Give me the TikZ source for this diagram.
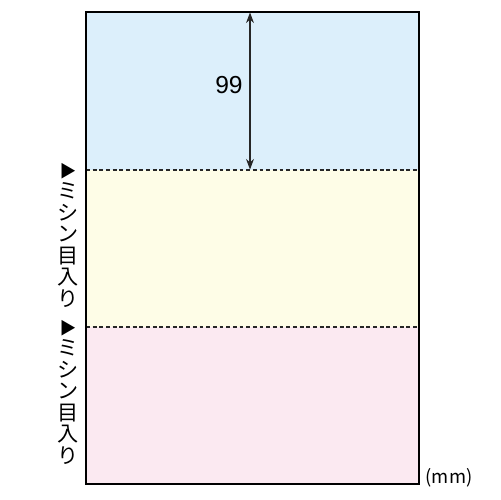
\documentclass[tikz,border=0pt]{standalone}
\usepackage{fontspec}
\setmainfont{Liberation Sans}
\newfontfamily\jpfont{Noto Sans CJK JP}
\usetikzlibrary{arrows.meta}
\definecolor{secblue}{RGB}{220,239,251}
\definecolor{secyellow}{RGB}{254,253,231}
\definecolor{secpink}{RGB}{251,233,241}
\newcommand{\tri}{{\fontsize{9.5}{12.2}\selectfont ▶}}
\tikzset{
  perf/.style={draw=black!85, line width=0.6pt, dash pattern=on 2.2pt off 1.6pt},
  border/.style={draw=black, line width=0.8pt},
  dimarrow/.style={draw=black!85, line width=0.6pt, {Stealth[length=6pt,width=4.5pt]}-{Stealth[length=6pt,width=4.5pt]}},
  vlabel/.style={font=\jpfont\fontsize{12}{12.2}\selectfont, align=center, inner sep=0pt, anchor=north},
}
\begin{document}
\begin{tikzpicture}[x=0.02cm,y=-0.02cm]
\useasboundingbox (0,0) rectangle (500,500);
% sections
\fill[secblue] (86,12) rectangle (419,170);
\fill[secyellow] (86,170) rectangle (419,327);
\fill[secpink] (86,327) rectangle (419,484);
% perforations
\coordinate (p1l) at (86,170);
\coordinate (p1r) at (419,170);
\coordinate (p2l) at (86,327);
\coordinate (p2r) at (419,327);
\draw[perf] (p1l) -- (p1r);
\draw[perf] (p2l) -- (p2r);
% border
\draw[border] (86,12) rectangle (419,484);
% dimension
\coordinate (dtop) at (250,12.5);
\coordinate (dbot) at (250,169.5);
\draw[dimarrow] (dtop) -- (dbot);
\node[font=\fontsize{14}{16}\selectfont] (dim) at (229,85) {99};
% vertical labels
\node[vlabel] (lab1) at (68,163) {\tri\\ミ\\シ\\ン\\目\\入\\り};
\node[vlabel] (lab2) at (68,320) {\tri\\ミ\\シ\\ン\\目\\入\\り};
% unit
\node[font=\jpfont\fontsize{10.5}{12}\selectfont, inner sep=0pt] (unit) at (449,478) {(mm)};
\end{tikzpicture}
\end{document}
